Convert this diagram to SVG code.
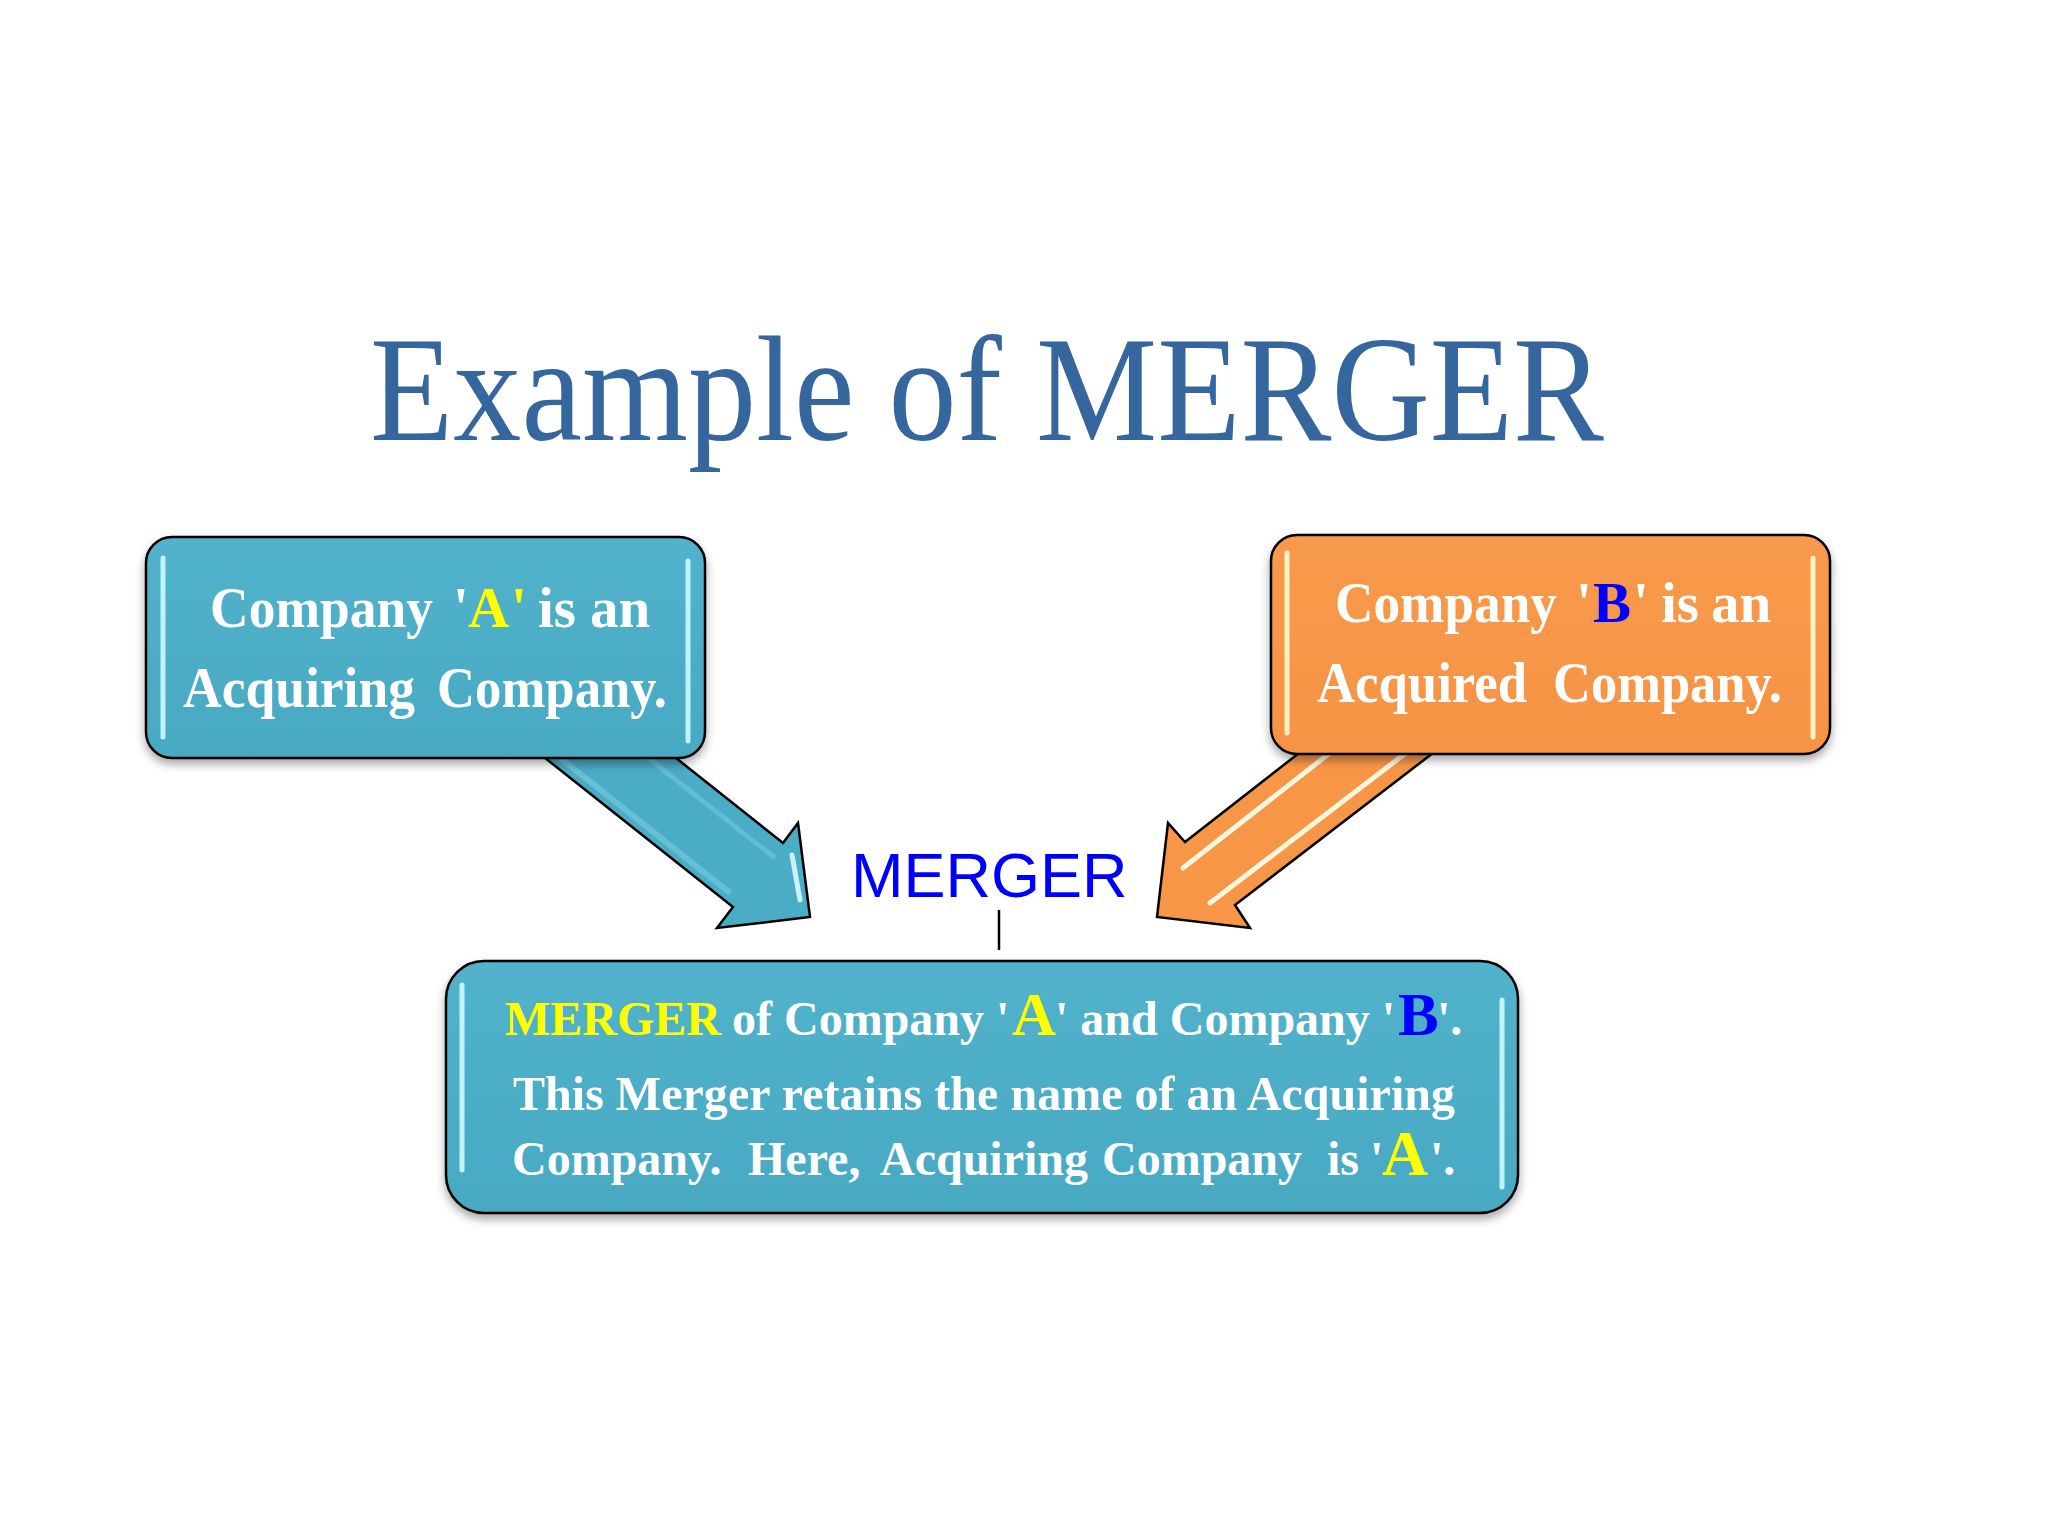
<svg xmlns="http://www.w3.org/2000/svg" width="2048" height="1536" viewBox="0 0 2048 1536">
<defs>
<filter id="shadow" x="-10%" y="-10%" width="120%" height="130%">
<feDropShadow dx="0" dy="5" stdDeviation="5" flood-color="#000" flood-opacity="0.35"/>
</filter>
<linearGradient id="gBlue" x1="0" y1="0" x2="0" y2="1">
<stop offset="0" stop-color="#52b2cb"/>
<stop offset="1" stop-color="#48a9c3"/>
</linearGradient>
<linearGradient id="gOrange" x1="0" y1="0" x2="0" y2="1">
<stop offset="0" stop-color="#f89a4c"/>
<stop offset="1" stop-color="#f69344"/>
</linearGradient>
<style>
.box{stroke:#000;stroke-width:2.5}
.blue{fill:url(#gBlue)}
.orange{fill:url(#gOrange)}
.hlB{stroke:#bff3ff;stroke-width:5;stroke-linecap:round;fill:none}
.hlO{stroke:#fff2c4;stroke-width:5;stroke-linecap:round;fill:none}
.t{font-family:"Liberation Serif","Times New Roman",serif;font-weight:bold;fill:#fff}
.y{fill:#ffff00}
.b{fill:#0000ff}
.arrow{stroke:#000;stroke-width:2.5;stroke-linejoin:miter}
</style>
</defs>
<rect width="2048" height="1536" fill="#fff"/>
<text id="title" x="370" y="440" font-family="'Liberation Serif','Times New Roman',serif" font-size="150" fill="#35669e" textLength="1234" lengthAdjust="spacingAndGlyphs">Example of MERGER</text>
<g id="connectors">
<g id="arrowA">
<polygon class="arrow" fill="#4bacc6" points="472,700 733,907 717,928 810,917 798,823 783,843 603,700"/>
<line x1="495" y1="706" x2="730" y2="893" stroke="#79cde2" stroke-width="6" opacity="0.6"/>
<line x1="590" y1="712" x2="775" y2="858" stroke="#79cde2" stroke-width="5" opacity="0.5"/>
<line x1="792" y1="855" x2="800" y2="900" stroke="#d8fbff" stroke-width="5" stroke-linecap="round" opacity="0.9"/>
</g>
<g id="arrowB">
<polygon class="arrow" fill="#f79646" points="1367,700 1185,842 1168,823 1157,917 1250,928 1235,905 1502,700"/>
<line x1="1183" y1="868" x2="1340" y2="745" stroke="#fff6dc" stroke-width="5" stroke-linecap="round"/>
<line x1="1210" y1="903" x2="1415" y2="746" stroke="#fff6dc" stroke-width="5" stroke-linecap="round"/>
</g>
<line id="tick" x1="999" y1="910" x2="999" y2="950" stroke="#000" stroke-width="2.5"/>
</g>
<g id="nodeA">
<rect class="box blue" x="146" y="537" width="559" height="221" rx="26" filter="url(#shadow)"/>
<line class="hlB" x1="163" y1="558" x2="163" y2="737"/>
<line class="hlB" x1="688" y1="561" x2="688" y2="741"/>
<text class="t" y="627" font-size="57"><tspan x="210" textLength="223" lengthAdjust="spacingAndGlyphs">Company</tspan> <tspan x="453">'</tspan><tspan class="y" x="468">A</tspan><tspan class="y" x="511">'</tspan> <tspan x="538">is</tspan> <tspan x="590">an</tspan></text>
<text class="t" y="707" font-size="57"><tspan x="183" textLength="232" lengthAdjust="spacingAndGlyphs">Acquiring</tspan> <tspan x="437" textLength="230" lengthAdjust="spacingAndGlyphs">Company.</tspan></text>
</g>
<g id="nodeB">
<rect class="box orange" x="1271" y="535" width="559" height="219" rx="26" filter="url(#shadow)"/>
<line class="hlO" x1="1287" y1="553" x2="1287" y2="733"/>
<line class="hlO" x1="1813" y1="558" x2="1813" y2="737"/>
<text class="t" y="622" font-size="57"><tspan x="1335" textLength="222" lengthAdjust="spacingAndGlyphs">Company</tspan> <tspan x="1576">'</tspan><tspan class="b" x="1593">B</tspan><tspan x="1633">'</tspan> <tspan x="1661">is</tspan> <tspan x="1711">an</tspan></text>
<text class="t" y="702" font-size="57"><tspan x="1317" textLength="210" lengthAdjust="spacingAndGlyphs">Acquired</tspan> <tspan x="1553" textLength="229" lengthAdjust="spacingAndGlyphs">Company.</tspan></text>
</g>
<g id="mergerLabel">
<text x="851" y="897" font-family="'Liberation Sans',Arial,sans-serif" font-size="63" fill="#0000ff">MERGER</text>
</g>
<g id="nodeMerger">
<rect class="box blue" x="446" y="961" width="1072" height="252" rx="38" filter="url(#shadow)"/>
<line class="hlB" x1="462" y1="985" x2="462" y2="1170"/>
<line class="hlB" x1="1502" y1="1000" x2="1502" y2="1187"/>
<text class="t" y="1035" font-size="48"><tspan class="y" x="505">MERGER</tspan> <tspan x="732">of Company '</tspan><tspan class="y" x="1012" font-size="61">A</tspan><tspan x="1055">' and Company '</tspan><tspan class="b" x="1398" font-size="61">B</tspan><tspan x="1437">'.</tspan></text>
<text class="t" x="513" y="1110" font-size="48" textLength="942" lengthAdjust="spacingAndGlyphs">This Merger retains the name of an Acquiring</text>
<text class="t" y="1175" font-size="48"><tspan x="512">Company.</tspan> <tspan x="748">Here,</tspan> <tspan x="880">Acquiring</tspan> <tspan x="1102">Company</tspan> <tspan x="1327">is</tspan> <tspan x="1370">'</tspan><tspan class="y" x="1382" font-size="64">A</tspan><tspan x="1430">'.</tspan></text>
</g>
</svg>
